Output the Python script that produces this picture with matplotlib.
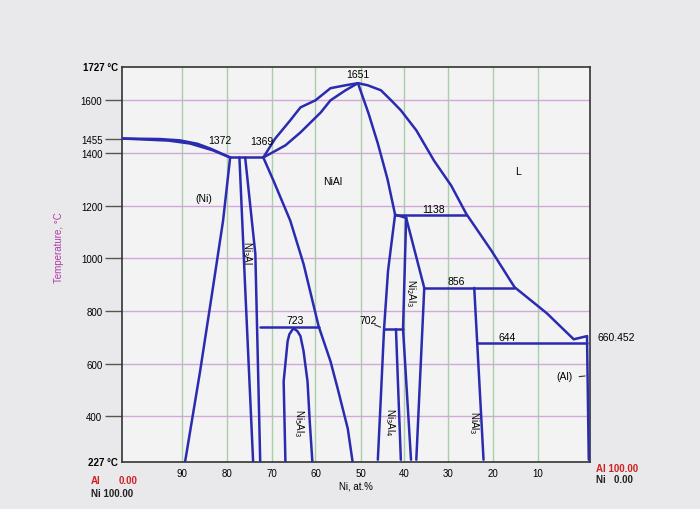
import matplotlib
matplotlib.use("Agg")
import matplotlib.pyplot as plt

# Phase boundaries: (Ni at.%, T °C)
ni_liq_ni = [103.6, 95.0, 90.5, 86.5, 83.6, 79.1]; ni_liq_t = [1455, 1453, 1448, 1435, 1417, 1383]
ni_sol_ni = [103.6, 93.0, 88.2, 83.0, 79.1]; ni_sol_t = [1455, 1447, 1436, 1410, 1383]
eut_ni = [79.1, 71.6]; eut_t = [1383, 1383]
nial_liqL_ni = [71.6, 68.9, 65.5, 63.2, 59.8, 56.4, 53.0, 50.2]
nial_liqL_t = [1383, 1455, 1524, 1573, 1600, 1646, 1657, 1665]
nial_solL_ni = [71.6, 66.6, 63.2, 58.6, 56.4, 53.0, 50.2]
nial_solL_t = [1383, 1429, 1478, 1554, 1600, 1638, 1665]
liqR_ni = [50.2, 48.0, 45.0, 42.7, 40.5, 37.0, 33.0, 29.1, 25.7, 20.0, 14.8, 7.5, 1.4, -1.6]
liqR_t = [1665, 1657, 1638, 1600, 1562, 1486, 1371, 1276, 1169, 1029, 891, 792, 693, 705]
nialR_ni = [50.2, 47.8, 45.7, 43.5, 41.8]; nialR_t = [1665, 1550, 1436, 1300, 1166]
l1138_ni = [41.8, 25.7]; l1138_t = [1166, 1166]
nialR2_ni = [41.8, 42.6, 43.4, 44.3, 45.0, 45.7]; nialR2_t = [1166, 1060, 952, 731, 480, 236]
l702_ni = [44.3, 40.0]; l702_t = [731, 731]
v702_ni = [41.6, 40.5]; v702_t = [731, 236]
n23L_ni = [39.3, 40.0, 38.2]; n23L_t = [1154, 731, 236]
n23R_ni = [39.3, 35.2, 37.0]; n23R_t = [1154, 888, 236]
v1138_ni = [41.8, 39.3]; v1138_t = [1166, 1154]
l856_ni = [35.2, 14.8]; l856_t = [888, 888]
nial3_ni = [23.9, 21.8]; nial3_t = [888, 236]
l644_ni = [23.0, -1.6]; l644_t = [680, 680]
al_ni = [-1.6, -2.0]; al_t = [705, 236]
nisolv_ni = [79.1, 80.7, 83.0, 85.9, 89.3]; nisolv_t = [1383, 1143, 888, 571, 227]
n3aL_ni = [77.0, 75.7, 73.9]; n3aL_t = [1383, 888, 227]
n3aR_ni = [75.7, 73.4, 72.3]; n3aR_t = [1383, 1017, 227]
nialL_ni = [71.6, 69.3, 65.5, 62.5, 59.1, 56.4, 54.8, 52.5, 51.4]
nialL_t = [1383, 1295, 1143, 979, 743, 609, 507, 354, 227]
l723_ni = [72.3, 59.1]; l723_t = [738, 738]
dome_ni = [66.6, 66.8, 67.0, 66.1, 65.7, 64.8, 63.9, 63.2, 62.5, 61.6, 61.1, 60.5]
dome_t = [227, 381, 533, 686, 712, 735, 724, 705, 648, 533, 381, 227]

xticks = [90, 80, 70, 60, 50, 40, 30, 20, 10]
xtick_pos = [89.9, 79.7, 69.7, 59.8, 49.6, 39.8, 29.9, 19.7, 9.5]
yticks = [1600, 1455, 1400, 1200, 1000, 800, 600, 400]
ygrid = [1600, 1400, 1200, 1000, 800, 600, 400]

plt.rcParams['font.family'] = ['Liberation Sans', 'DejaVu Sans']
fig = plt.figure(figsize=(7, 5.1), dpi=100)
fig.patch.set_facecolor("#e9e9eb")
ax = fig.add_axes([0.174, 0.092, 0.669, 0.775])
ax.set_facecolor("#f3f3f4")
ax.set_xlim(103.6, -2.3)
ax.set_ylim(227, 1727)

for x in xtick_pos:
    ax.axvline(x, color="#a9cfa9", lw=1.0, zorder=1)
for y in ygrid:
    ax.axhline(y, color="#d2a8d6", lw=1.0, zorder=1)

c = "#2b2bb0"
segs = [(ni_liq_ni, ni_liq_t), (ni_sol_ni, ni_sol_t), (eut_ni, eut_t),
        (nial_liqL_ni, nial_liqL_t), (nial_solL_ni, nial_solL_t), (liqR_ni, liqR_t),
        (nialR_ni, nialR_t), (l1138_ni, l1138_t), (nialR2_ni, nialR2_t),
        (l702_ni, l702_t), (v702_ni, v702_t), (n23L_ni, n23L_t), (n23R_ni, n23R_t),
        (v1138_ni, v1138_t), (l856_ni, l856_t), (nial3_ni, nial3_t), (l644_ni, l644_t),
        (al_ni, al_t), (nisolv_ni, nisolv_t), (n3aL_ni, n3aL_t), (n3aR_ni, n3aR_t),
        (nialL_ni, nialL_t), (l723_ni, l723_t), (dome_ni, dome_t)]
for xs, ys in segs:
    ax.plot(xs, ys, color=c, lw=1.8, zorder=3, solid_capstyle="round", solid_joinstyle="round")

for s in ax.spines.values():
    s.set_color("#333333"); s.set_linewidth(1.2)
ax.set_xticks(xtick_pos)
ax.set_xticklabels([str(v) for v in xticks], fontsize=7)
ax.set_yticks(yticks)
ax.set_yticklabels([str(v) for v in yticks], fontsize=7)
ax.tick_params(axis="y", length=12, width=1.0, color="#555555", pad=2)
ax.tick_params(axis="x", length=0, pad=4)
ax.set_xlabel("Ni, at.%", fontsize=7, labelpad=2)

ax.text(104.5, 1727, "1727 °C", fontsize=7, fontweight="bold", ha="right", va="center")
ax.text(104.5, 227, "227 °C", fontsize=7, fontweight="bold", ha="right", va="center")
fig.text(0.085, 0.515, "Temperature, °C", rotation=90, color="#b03aa8", fontsize=7, ha="center", va="center")
fig.text(0.13, 0.05, "Al", color="#d02020", fontsize=7, fontweight="bold")
fig.text(0.17, 0.05, "0.00", color="#d02020", fontsize=7, fontweight="bold")
fig.text(0.13, 0.025, "Ni 100.00", color="#222222", fontsize=7, fontweight="bold")
fig.text(0.851, 0.075, "Al 100.00", color="#d02020", fontsize=7, fontweight="bold")
fig.text(0.851, 0.052, "Ni   0.00", color="#222222", fontsize=7, fontweight="bold")

kw = dict(fontsize=7.5, ha="center", va="center", zorder=4)
ax.text(50.2, 1700, "1651", **kw)
ax.text(81.5, 1450, "1372", **kw)
ax.text(72.0, 1445, "1369", **kw)
ax.text(56.0, 1293, "NiAl", **kw)
ax.text(14.0, 1330, "L", **kw)
ax.text(85.0, 1230, "(Ni)", **kw)
ax.text(33.0, 1188, "1138", **kw)
ax.text(28.0, 915, "856", **kw)
ax.text(64.5, 765, "723", **kw)
ax.text(48.0, 765, "702", **kw)
ax.annotate("", xy=(44.5, 735), xytext=(47.0, 752), arrowprops=dict(arrowstyle="-", color="#333", lw=0.8))
ax.text(16.5, 700, "644", **kw)
ax.text(-4.0, 700, "660.452", fontsize=7.5, ha="left", va="center", clip_on=False)
ax.text(3.5, 555, "(Al)", **kw)
ax.annotate("", xy=(-1.8, 555), xytext=(0.8, 550), arrowprops=dict(arrowstyle="-", color="#333", lw=0.8))
rk = dict(fontsize=7, ha="center", va="center", rotation=-90, zorder=4)
ax.text(75.2, 1025, r"Ni$_3$Al", **rk)
ax.text(63.6, 380, r"Ni$_5$Al$_3$", **rk)
ax.text(42.9, 380, r"Ni$_3$Al$_4$", **rk)
ax.text(38.2, 870, r"Ni$_2$Al$_3$", **rk)
ax.text(24.0, 380, r"NiAl$_3$", **rk)

fig.savefig("out.png", dpi=100, facecolor=fig.get_facecolor())
